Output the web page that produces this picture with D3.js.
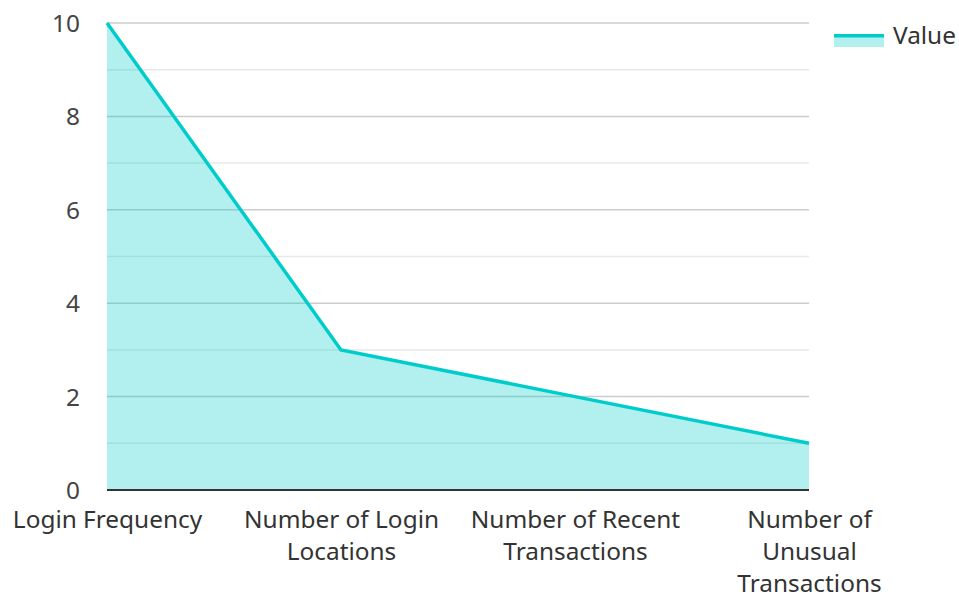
<!DOCTYPE html>
<html>
<head>
<meta charset="utf-8">
<script src="https://cdn.jsdelivr.net/npm/d3@7"></script>
<style>
  html, body { margin: 0; padding: 0; background: #fff; }
  svg { display: block; font-family: "Noto Sans", "Open Sans", sans-serif; }
</style>
</head>
<body>
<svg id="chart" width="959" height="594"></svg>
<script>
// Risk factor metrics
const categories = ["Login Frequency", "Number of Login Locations", "Number of Recent Transactions", "Number of Unusual Transactions"];
const values = [10, 3, 2, 1];
const seriesName = "Value";
const yTicks = [0, 2, 4, 6, 8, 10];
const yMinorTicks = [1, 3, 5, 7, 9];

const lineColor = "#00cccc";
const fillColor = "rgba(0, 204, 204, 0.3)";
const fontSize = 24.4;

const svg = d3.select("#chart");
const plotLeft = 107, plotRight = 809, plotTop = 23, plotBottom = 490;

const x = d3.scalePoint().domain(categories).range([plotLeft, plotRight]);
const y = d3.scaleLinear().domain([0, 10]).range([plotBottom, plotTop]);

// Grid lines
svg.append("g").selectAll("line").data(yMinorTicks).join("line")
  .attr("x1", plotLeft).attr("x2", plotRight)
  .attr("y1", d => y(d)).attr("y2", d => y(d))
  .attr("stroke", "#e8e8e8").attr("stroke-width", 1.5);
svg.append("g").selectAll("line").data(yTicks.filter(d => d !== 0)).join("line")
  .attr("x1", plotLeft).attr("x2", plotRight)
  .attr("y1", d => y(d)).attr("y2", d => y(d))
  .attr("stroke", "#cccccc").attr("stroke-width", 1.5);

// Y axis labels
const yAxis = d3.axisLeft(y).tickValues(yTicks).tickSize(0).tickPadding(0);
const yg = svg.append("g").attr("transform", `translate(${plotLeft - 27},0)`).call(yAxis);
yg.select(".domain").remove();
yg.selectAll("text").attr("font-size", fontSize).attr("fill", "#444")
  .attr("font-family", "'Noto Sans', sans-serif").attr("dy", "0.35em");

// Area and line
const data = categories.map((c, i) => ({ c, v: values[i] }));
svg.append("path").datum(data)
  .attr("d", d3.area().x(d => x(d.c)).y0(y(0)).y1(d => y(d.v)))
  .attr("fill", fillColor);
svg.append("path").datum(data)
  .attr("d", d3.line().x(d => x(d.c)).y(d => y(d.v)))
  .attr("fill", "none").attr("stroke", lineColor).attr("stroke-width", 3.5)
  .attr("stroke-linejoin", "miter");

// X axis baseline
svg.append("line").attr("x1", plotLeft).attr("x2", plotRight)
  .attr("y1", y(0)).attr("y2", y(0))
  .attr("stroke", "#333").attr("stroke-width", 2);

// X axis labels with wrapping
const xAxis = d3.axisBottom(x).tickSize(0).tickPadding(0);
const xg = svg.append("g").attr("transform", `translate(0,${plotBottom})`).call(xAxis);
xg.select(".domain").remove();
xg.selectAll("text").attr("font-size", fontSize).attr("fill", "#333")
  .attr("font-family", "'Noto Sans', sans-serif")
  .each(function(d) {
    const t = d3.select(this);
    const words = d.split(" ");
    const maxW = 215;
    t.text(null).attr("y", 0).attr("dy", null);
    let line = [];
    const lines = [];
    const measure = t.append("tspan");
    words.forEach(w => {
      const test = line.concat([w]).join(" ");
      measure.text(test);
      if (measure.node().getComputedTextLength() > maxW && line.length) {
        lines.push(line.join(" "));
        line = [w];
      } else {
        line.push(w);
      }
    });
    lines.push(line.join(" "));
    measure.remove();
    lines.forEach((l, i) => {
      t.append("tspan").attr("x", 0).attr("y", 38 + i * 32).text(l);
    });
  });

// Legend
const lg = svg.append("g").attr("transform", "translate(834,34)");
lg.append("rect").attr("x", 0).attr("y", 0).attr("width", 50).attr("height", 13).attr("fill", fillColor);
lg.append("line").attr("x1", 0).attr("x2", 50).attr("y1", 1.75).attr("y2", 1.75)
  .attr("stroke", lineColor).attr("stroke-width", 3.5);
lg.append("text").attr("x", 59).attr("y", 10).attr("font-size", fontSize).attr("fill", "#333")
  .attr("font-family", "'Noto Sans', sans-serif").text(seriesName);
</script>
</body>
</html>
